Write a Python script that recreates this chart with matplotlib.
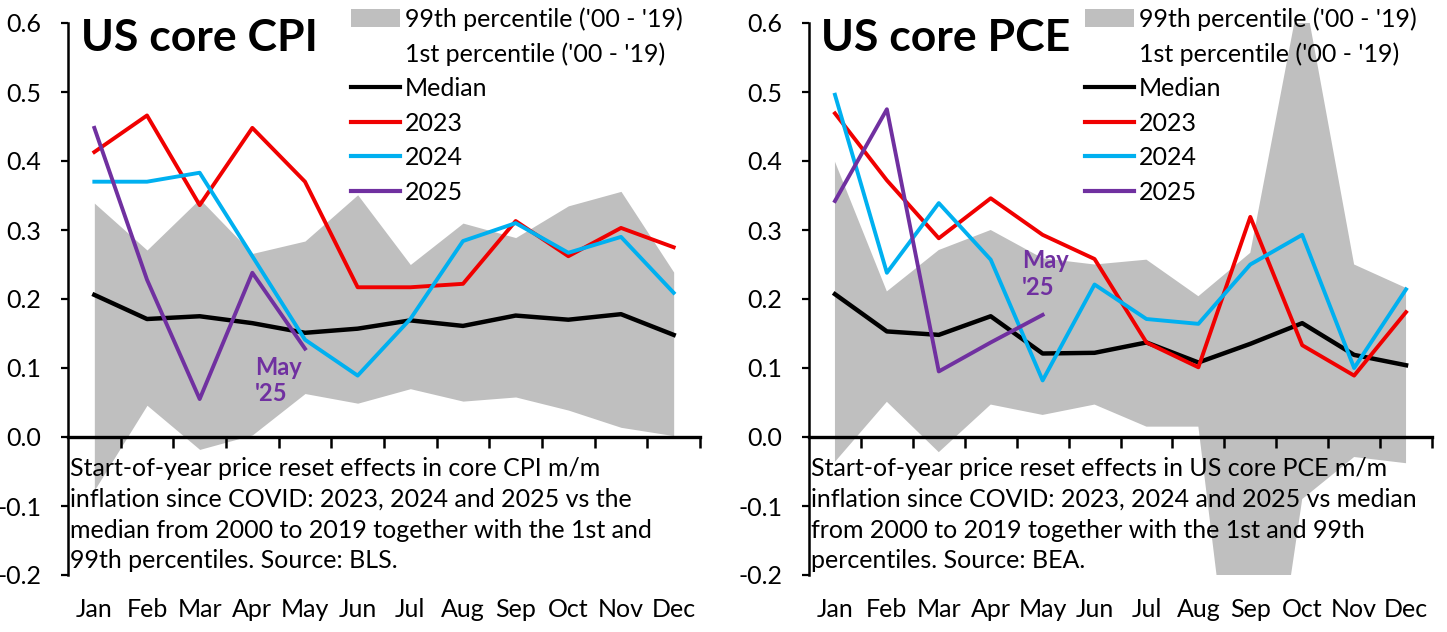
import matplotlib.pyplot as plt
from matplotlib.patches import Patch
from matplotlib.lines import Line2D
import numpy as np

months = ['Jan', 'Feb', 'Mar', 'Apr', 'May', 'Jun', 'Jul', 'Aug', 'Sep', 'Oct', 'Nov', 'Dec']

# US core CPI (m/m, %)
cpi_p99 = [0.339, 0.271, 0.345, 0.266, 0.284, 0.351, 0.250, 0.310, 0.289, 0.335, 0.356, 0.239]
cpi_p1 = [-0.077, 0.046, -0.018, 0.003, 0.063, 0.049, 0.070, 0.052, 0.058, 0.039, 0.014, 0.002]
cpi_median = [0.206, 0.171, 0.175, 0.165, 0.151, 0.157, 0.169, 0.161, 0.176, 0.170, 0.178, 0.148]
cpi_2023 = [0.413, 0.466, 0.336, 0.448, 0.370, 0.217, 0.217, 0.222, 0.313, 0.262, 0.303, 0.275]
cpi_2024 = [0.370, 0.370, 0.383, 0.262, 0.141, 0.089, 0.171, 0.284, 0.310, 0.267, 0.290, 0.209]
cpi_2025 = [0.448, 0.228, 0.055, 0.238, 0.128]

# US core PCE (m/m, %)
pce_p99 = [0.399, 0.211, 0.271, 0.300, 0.259, 0.250, 0.257, 0.204, 0.267, 0.660, 0.250, 0.216]
pce_p1 = [-0.036, 0.051, -0.022, 0.047, 0.032, 0.047, 0.015, 0.015, -0.600, -0.090, -0.029, -0.038]
pce_median = [0.207, 0.153, 0.148, 0.175, 0.121, 0.122, 0.137, 0.108, 0.135, 0.165, 0.119, 0.104]
pce_2023 = [0.469, 0.372, 0.288, 0.346, 0.293, 0.258, 0.137, 0.101, 0.319, 0.133, 0.089, 0.181]
pce_2024 = [0.496, 0.238, 0.339, 0.257, 0.082, 0.221, 0.171, 0.164, 0.250, 0.293, 0.100, 0.214]
pce_2025 = [0.342, 0.475, 0.095, 0.137, 0.177]

cpi_note = ("Start-of-year price reset effects in core CPI m/m\n"
            "inflation since COVID: 2023, 2024 and 2025 vs the\n"
            "median from 2000 to 2019 together with the 1st and\n"
            "99th percentiles. Source: BLS.")
pce_note = ("Start-of-year price reset effects in US core PCE m/m\n"
            "inflation since COVID: 2023, 2024 and 2025 vs median\n"
            "from 2000 to 2019 together with the 1st and 99th\n"
            "percentiles. Source: BEA.")

plt.rcParams['font.family'] = ['Lato', 'DejaVu Sans']

GRAY = '#BFBFBF'
RED = '#F00000'
BLUE = '#00B0F0'
PURPLE = '#7030A0'
FS = 18

W, H = 1447, 632
fig = plt.figure(figsize=(W / 100, H / 100), dpi=100)
ax1 = fig.add_axes([68 / W, 1 - 575 / H, 632 / W, 552 / H])
ax2 = fig.add_axes([809 / W, 1 - 575 / H, 623 / W, 552 / H])


def draw_panel(ax, title, p1, p99, med, y23, y24, y25, note, may_xy, leg_x):
    x = np.arange(len(months))
    ax.fill_between(x, p1, p99, color=GRAY, lw=0, zorder=1)
    ax.plot(x, med, color='black', lw=3.2, zorder=3)
    ax.plot(x, y23, color=RED, lw=2.8, zorder=3)
    ax.plot(x, y24, color=BLUE, lw=2.8, zorder=3)
    ax.plot(x[:len(y25)], y25, color=PURPLE, lw=2.8, zorder=4)

    ax.set_xlim(-0.5, 11.5)
    ax.set_ylim(-0.2, 0.6)
    ax.set_yticks(np.arange(-0.2, 0.61, 0.1))
    ax.set_yticklabels([f'{v:.1f}' for v in np.arange(-0.2, 0.61, 0.1)], fontsize=FS)
    ax.tick_params(axis='y', direction='out', length=5, width=1.6, pad=14)

    ax.set_xticks(np.arange(0.5, 12, 1))
    ax.set_xticklabels([])
    ax.tick_params(axis='x', direction='out', length=8, width=1.8)
    for i, m in enumerate(months):
        ax.text(i, -0.062, m, transform=ax.get_xaxis_transform(),
                ha='center', va='center', fontsize=FS)

    for s in ['top', 'right']:
        ax.spines[s].set_visible(False)
    ax.spines['bottom'].set_position(('data', 0))
    ax.spines['bottom'].set_linewidth(2.4)
    ax.spines['left'].set_linewidth(1.8)
    ax.spines['bottom'].set_zorder(5)

    ax.text(0.02, 0.949, title, transform=ax.transAxes, ha='left', va='baseline',
            fontsize=32, fontweight='bold')
    ax.text(0.003, 0.213, note, transform=ax.transAxes, ha='left', va='top',
            fontsize=FS, linespacing=1.4, zorder=6)
    ax.text(may_xy[0], may_xy[1], "May\n'25", ha='left', va='top', color=PURPLE,
            fontsize=17, fontweight='bold', linespacing=1.2, zorder=6)

    handles = [Patch(facecolor=GRAY, edgecolor='none'),
               Patch(facecolor='white', edgecolor='none'),
               Line2D([], [], color='black', lw=3),
               Line2D([], [], color=RED, lw=3),
               Line2D([], [], color=BLUE, lw=3),
               Line2D([], [], color=PURPLE, lw=3)]
    labels = ["99th percentile ('00 - '19)", "1st percentile ('00 - '19)",
              'Median', '2023', '2024', '2025']
    fig.legend(handles, labels, loc='upper left', bbox_to_anchor=(leg_x / W, 1 - 7 / H),
               frameon=False, fontsize=FS, handlelength=1.95, handleheight=0.7,
               handletextpad=0.2, labelspacing=0.46, borderpad=0, borderaxespad=0)


draw_panel(ax1, 'US core CPI', cpi_p1, cpi_p99, cpi_median, cpi_2023, cpi_2024, cpi_2025,
           cpi_note, (3.05, 0.118), 351)
draw_panel(ax2, 'US core PCE', pce_p1, pce_p99, pce_median, pce_2023, pce_2024, pce_2025,
           pce_note, (3.6, 0.272), 1085)

fig.savefig('out.png', dpi=100)
